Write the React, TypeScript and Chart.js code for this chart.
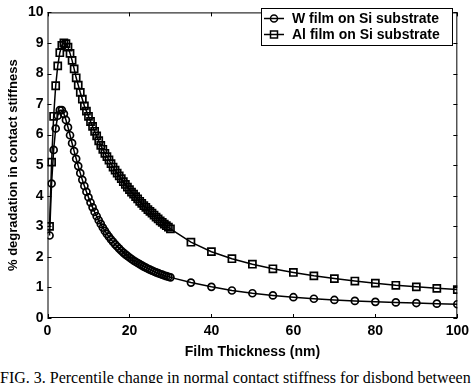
import React, { useEffect, useRef } from "react";
import { Chart, registerables } from "chart.js";
Chart.register(...registerables);

const thickness = [
  0.5, 1, 1.5, 2, 2.5, 3, 3.5, 4, 4.5, 5, 5.5, 6, 6.5, 7, 7.5, 8, 8.5, 9, 9.5, 10,
  10.5, 11, 11.5, 12, 12.5, 13, 13.5, 14, 14.5, 15, 15.5, 16, 16.5, 17, 17.5, 18, 18.5, 19, 19.5, 20,
  20.5, 21, 21.5, 22, 22.5, 23, 23.5, 24, 24.5, 25, 25.5, 26, 26.5, 27, 27.5, 28, 28.5, 29, 29.5, 30,
  35, 40, 45, 50, 55, 60, 65, 70, 75, 80, 85, 90, 95, 100,
];

const wFilm = [
  2.7, 4.4, 5.5, 6.2, 6.62, 6.8, 6.8, 6.68, 6.48, 6.24, 5.98, 5.72, 5.46, 5.21, 4.97, 4.74, 4.52, 4.32, 4.13, 3.95,
  3.78, 3.62, 3.47, 3.33, 3.2, 3.08, 2.96, 2.85, 2.75, 2.66, 2.57, 2.49, 2.41, 2.34, 2.27, 2.2, 2.14, 2.08, 2.03, 1.98,
  1.93, 1.88, 1.84, 1.8, 1.76, 1.72, 1.68, 1.65, 1.61, 1.58, 1.55, 1.52, 1.49, 1.47, 1.44, 1.42, 1.39, 1.37, 1.35, 1.33,
  1.16, 1.02, 0.9, 0.81, 0.74, 0.68, 0.63, 0.59, 0.56, 0.53, 0.51, 0.49, 0.47, 0.45,
];

const alFilm = [
  3.0, 5.1, 6.6, 7.6, 8.25, 8.68, 8.92, 9.0, 8.98, 8.86, 8.66, 8.43, 8.15, 7.86, 7.62, 7.38, 7.16, 6.94, 6.77, 6.6,
  6.43, 6.27, 6.11, 5.96, 5.8, 5.65, 5.52, 5.39, 5.28, 5.17, 5.05, 4.94, 4.84, 4.74, 4.65, 4.56, 4.46, 4.37, 4.28, 4.2,
  4.12, 4.05, 3.97, 3.9, 3.82, 3.75, 3.68, 3.62, 3.55, 3.49, 3.43, 3.37, 3.3, 3.24, 3.18, 3.13, 3.07, 3.02, 2.97, 2.92,
  2.48, 2.17, 1.94, 1.76, 1.61, 1.49, 1.38, 1.29, 1.21, 1.14, 1.07, 1.02, 0.97, 0.93,
];

const seriesLabels = ["W film on Si substrate", "Al film on Si substrate"];
const xTickValues = [0, 20, 40, 60, 80, 100];
const yTickValues = [0, 1, 2, 3, 4, 5, 6, 7, 8, 9, 10];
const xTitle = "Film Thickness (nm)";
const yTitle = "% degradation in contact stiffness";
const caption = "FIG. 3. Percentile change in normal contact stiffness for disbond between";

const FONT = "'Liberation Sans', Arial, sans-serif";

const boxPlugin = {
  id: "boxTicks",
  afterDraw(chart: any) {
    const { ctx, chartArea } = chart;
    const { left, right, top, bottom } = chartArea;
    const xs = chart.scales.x;
    const ys = chart.scales.y;
    ctx.save();
    ctx.strokeStyle = "#000";
    ctx.lineWidth = 1;
    ctx.strokeRect(left + 0.5, top + 0.5, right - left - 1, bottom - top - 1);
    const tl = 4;
    ctx.beginPath();
    xTickValues.forEach((v) => {
      const px = Math.round(xs.getPixelForValue(v)) + 0.5;
      ctx.moveTo(px, bottom);
      ctx.lineTo(px, bottom - tl);
      ctx.moveTo(px, top);
      ctx.lineTo(px, top + tl);
    });
    yTickValues.forEach((v) => {
      const py = Math.round(ys.getPixelForValue(v)) + 0.5;
      ctx.moveTo(left, py);
      ctx.lineTo(left + tl, py);
      ctx.moveTo(right, py);
      ctx.lineTo(right - tl, py);
    });
    ctx.stroke();

    // legend
    const lx = 261.5, ly = 8.5, lw = 191, lh = 37;
    ctx.fillStyle = "#fff";
    ctx.fillRect(lx, ly, lw, lh);
    ctx.strokeRect(lx, ly, lw, lh);
    const rows = [18.5, 34.5];
    chart.data.datasets.forEach((ds: any, i: number) => {
      const y = rows[i];
      ctx.strokeStyle = "#000";
      ctx.lineWidth = 1.5;
      ctx.beginPath();
      ctx.moveTo(264, y);
      ctx.lineTo(284, y);
      ctx.stroke();
      ctx.beginPath();
      if (ds.pointStyle === "rect") {
        ctx.rect(274 - 3.5, y - 3.5, 7, 7);
      } else {
        ctx.arc(274, y, 3.5, 0, Math.PI * 2);
      }
      ctx.stroke();
      ctx.fillStyle = "#000";
      ctx.font = `bold 14px ${FONT}`;
      ctx.textBaseline = "middle";
      ctx.textAlign = "left";
      ctx.fillText(ds.label, 292, y + 0.5);
    });
    ctx.restore();
  },
};

export default function App() {
  const ref = useRef<HTMLCanvasElement>(null);
  useEffect(() => {
    document.body.style.margin = "0";
    const chart = new Chart(ref.current as HTMLCanvasElement, {
      type: "line",
      data: {
        datasets: [
          {
            label: seriesLabels[0],
            data: thickness.map((t, i) => ({ x: t, y: wFilm[i] })),
            borderColor: "#000",
            borderWidth: 1.5,
            pointStyle: "circle",
            pointRadius: 3.5,
            pointBorderWidth: 1.7,
            pointBorderColor: "#000",
            pointBackgroundColor: "rgba(0,0,0,0)",
            tension: 0,
          },
          {
            label: seriesLabels[1],
            data: thickness.map((t, i) => ({ x: t, y: alFilm[i] })),
            borderColor: "#000",
            borderWidth: 1.5,
            pointStyle: "rect",
            pointRadius: 5,
            pointBorderWidth: 1.7,
            pointBorderColor: "#000",
            pointBackgroundColor: "rgba(0,0,0,0)",
            tension: 0,
          },
        ],
      },
      options: {
        responsive: false,
        animation: false,
        devicePixelRatio: 1,
        layout: { padding: { top: 5, right: 16.5, bottom: 0, left: 0 } },
        plugins: { legend: { display: false }, tooltip: { enabled: false } },
        scales: {
          x: {
            type: "linear",
            min: 0,
            max: 100,
            afterFit: (s: any) => {
              s.height = 44;
            },
            afterBuildTicks: (s: any) => {
              s.ticks = xTickValues.map((v) => ({ value: v }));
            },
            grid: { display: false, drawTicks: false },
            border: { display: false },
            ticks: {
              color: "#000",
              font: { family: FONT, size: 14, weight: "bold" },
              padding: 5,
              maxRotation: 0,
            },
            title: {
              display: true,
              text: xTitle,
              color: "#000",
              font: { family: FONT, size: 14, weight: "bold" },
              padding: { top: 0, bottom: 1 },
            },
          },
          y: {
            type: "linear",
            min: 0,
            max: 10,
            afterFit: (s: any) => {
              s.width = 47.5;
            },
            afterBuildTicks: (s: any) => {
              s.ticks = yTickValues.map((v) => ({ value: v }));
            },
            grid: { display: false, drawTicks: false },
            border: { display: false },
            ticks: {
              color: "#000",
              font: { family: FONT, size: 14, weight: "bold" },
              padding: 4,
            },
            title: {
              display: true,
              text: yTitle,
              color: "#000",
              font: { family: FONT, size: 13, weight: "bold" },
              padding: { top: 6, bottom: 0 },
            },
          },
        },
      },
      plugins: [boxPlugin],
    } as any);
    return () => chart.destroy();
  }, []);
  return (
    <div style={{ position: "relative", width: 474, height: 383, overflow: "hidden", background: "#fff" }}>
      <canvas ref={ref} width={474} height={362} style={{ display: "block" }} />
      <div
        style={{
          position: "absolute",
          left: 0,
          top: 369,
          fontFamily: "'Liberation Serif', 'Times New Roman', serif",
          fontSize: 16,
          whiteSpace: "nowrap",
          color: "#000",
        }}
      >
        {caption}
      </div>
    </div>
  );
}
